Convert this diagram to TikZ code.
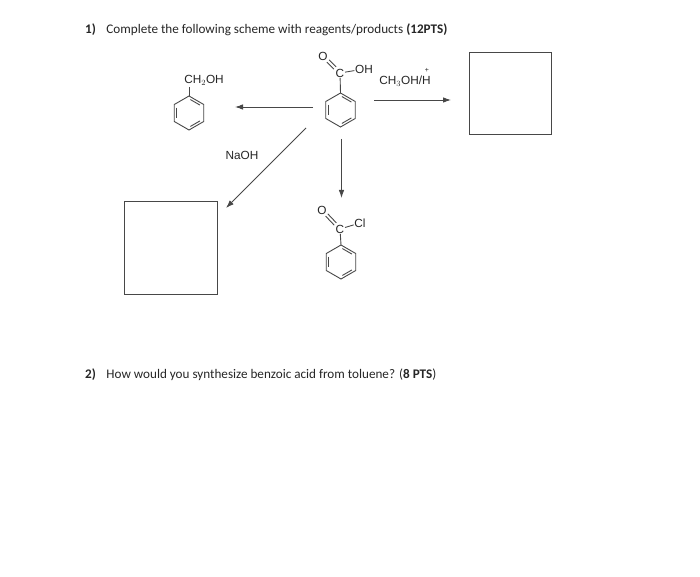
\documentclass[tikz,border=0pt]{standalone}
\usepackage{fontspec}
\setmainfont{Carlito}
\newfontfamily\chemfont{Liberation Sans}
\usetikzlibrary{calc, arrows.meta}
\definecolor{inkgray}{gray}{.15}
\tikzset{
  bond/.style={draw=inkgray!85,line width=.9pt},
  react/.style={draw=inkgray!85,line width=.9pt,-{Latex[length=8pt,width=5.5pt]}},
  answerbox/.style={draw=inkgray!85,line width=.9pt,inner sep=0pt,anchor=north west},
  atom/.style={text=inkgray,inner sep=.6pt,font=\chemfont\fontsize{11.8}{12}\selectfont},
  question/.style={text=inkgray,anchor=west,inner sep=0pt,font=\fontsize{13.15}{15}\selectfont}
}
% Ring with centre (#1) and one double line on every second side (y axis points down)
\newcommand{\benzring}[1]{
  \draw[bond] ($(#1)+(90:17)$) -- ($(#1)+(150:17)$) -- ($(#1)+(210:17)$)
    -- ($(#1)+(270:17)$) -- ($(#1)+(330:17)$) -- ($(#1)+(30:17)$) -- cycle;
  \draw[bond] ($(#1)+(84:13.5)$) -- ($(#1)+(36:13.5)$);
  \draw[bond] ($(#1)+(204:13.5)$) -- ($(#1)+(156:13.5)$);
  \draw[bond] ($(#1)+(324:13.5)$) -- ($(#1)+(276:13.5)$);
}
\begin{document}
\begin{tikzpicture}[x=1pt,y=-1pt]
\useasboundingbox (0,0) rectangle (700,577);
\fill[white] (0,0) rectangle (700,577);
% Questions
\node[question] (q1) at (85,30) {\textbf{1)}\hspace{10.5pt}Complete the following scheme with reagents/products \textbf{(12PTS)}};
\node[question] (q2) at (85,375) {\textbf{2)}\hspace{10.5pt}How would you synthesize benzoic acid from toluene? (\textbf{8 PTS})};
% Ring centres
\coordinate (acidring) at (340.5,110);
\coordinate (alcring) at (189,113);
\coordinate (clring) at (341,262);
\benzring{acidring}
\benzring{alcring}
\benzring{clring}
% Benzoic acid
\node[atom] (acidc) at (340,73) {C};
\node[atom] (acido) at (323,56) {O};
\node[atom] (acidoh) at (364,69) {OH};
\draw[bond,transform canvas={xshift=-1.1pt,yshift=-1.1pt}] (acidc) -- (acido);
\draw[bond,transform canvas={xshift=1.1pt,yshift=1.1pt}] (acidc) -- (acido);
\draw[bond] (acidc) -- (acidoh);
\draw[bond] (acidc) -- ($(acidring)+(270:17)$);
% Benzyl alcohol
\node[atom] (alcoh) at (204,80) {CH$_2$OH};
\coordinate (alcstem) at (189,87);
\draw[bond] (alcstem) -- ($(alcring)+(270:17)$);
% Acid chloride
\node[atom] (clc) at (340,229) {C};
\node[atom] (clo) at (322,210) {O};
\node[atom] (clcl) at (360,223) {Cl};
\draw[bond,transform canvas={xshift=-1.1pt,yshift=-1.1pt}] (clc) -- (clo);
\draw[bond,transform canvas={xshift=1.1pt,yshift=1.1pt}] (clc) -- (clo);
\draw[bond] (clc) -- (clcl);
\draw[bond] (clc) -- ($(clring)+(270:17)$);
% Reagents
\node[atom] (ester) at (405,81) {CH$_3$OH/H};
\node[atom,font=\chemfont\fontsize{7}{7}\selectfont] (proton) at (427,70) {+};
\node[atom] (naoh) at (242,155) {NaOH};
% Answer boxes
\node[answerbox,minimum width=82.5pt,minimum height=82pt] (boxester) at (468.5,52) {};
\node[answerbox,minimum width=93pt,minimum height=93pt] (boxsalt) at (124.3,201) {};
% Arrow ends
\coordinate (lefta) at (313,107);
\coordinate (leftb) at (235,107);
\coordinate (righta) at (374,100);
\coordinate (rightb) at (451,100);
\coordinate (diaga) at (306,128);
\coordinate (diagb) at (226,208);
\coordinate (downa) at (341.5,139);
\coordinate (downb) at (341.5,198);
\draw[react] (lefta) -- (leftb);
\draw[react] (righta) -- (rightb);
\draw[react] (diaga) -- (diagb);
\draw[react] (downa) -- (downb);
\end{tikzpicture}
\end{document}
